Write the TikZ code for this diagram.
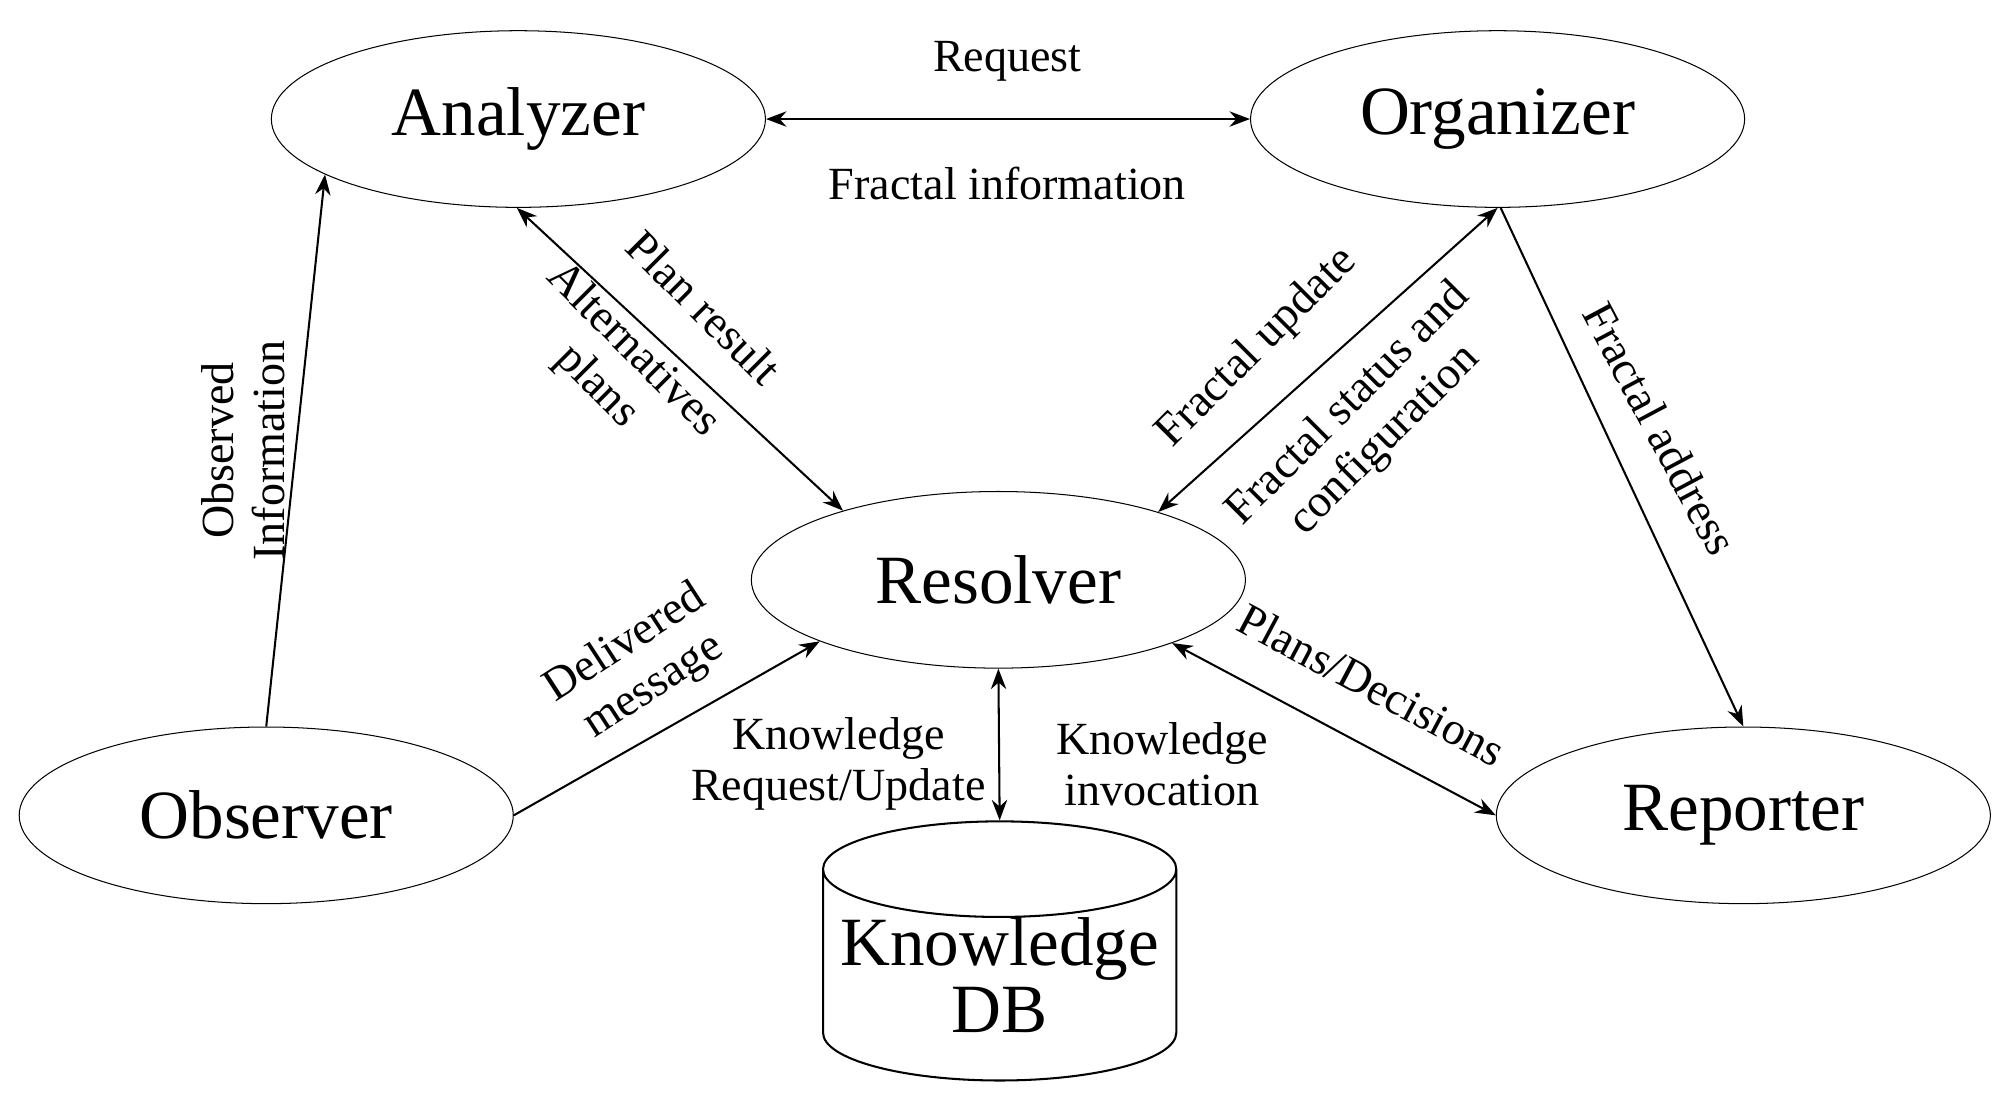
\documentclass[tikz,border=0pt]{standalone}
\usepackage{fontspec}
\setmainfont{Liberation Serif}
\usetikzlibrary{shapes.geometric,arrows.meta}
\tikzset{
  agent/.style={draw,ellipse,inner sep=0pt,minimum width=193pt,minimum height=69pt,font=\fontsize{27}{29}\selectfont},
  lbl/.style={font=\fontsize{18}{20}\selectfont,align=center,inner sep=0pt},
  flow/.style={-{Stealth[length=8pt,width=6pt]},line width=0.8pt},
  both/.style={{Stealth[length=8pt,width=6pt]}-{Stealth[length=8pt,width=6pt]},line width=0.8pt}
}
\begin{document}
\begin{tikzpicture}[x=0.5pt,y=0.5pt,yscale=-1,xscale=1]
\useasboundingbox (0,0) rectangle (1568,865);

% Nodes
\node[agent] (ana) at (405,93) {Analyzer};
\node[agent] (org) at (1170,93) {Organizer};
\node[agent] (res) at (780,453) {Resolver};
\node[agent] (obs) at (208,637) {Observer};
\node[agent] (rep) at (1362,637) {Reporter};
\node[draw,cylinder,shape border rotate=90,aspect=0.3,inner sep=0pt,minimum width=138pt,minimum height=95pt,align=center,font=\fontsize{27}{30}\selectfont,line width=0.8pt] (kdb) at (781,762) {Knowledge\\[-4pt]DB};

% Connectors
\draw[both] (ana.east) -- (org.west);
\draw[flow] (obs.north) -- (ana.-164);
\draw[both] (ana.-91) -- (res.156);
\draw[both] (org.-90) -- (res.23);
\draw[flow] (org.-88) -- (rep.north);
\draw[flow] (obs.east) -- (res.-161);
\draw[both] (res.south) -- (kdb.top);
\draw[both] (res.-20) -- (rep.west);

% Text Node
\node[lbl] (l1) at (787,48) {Request};
\node[lbl] (l2) at (787,143) {Fractal information};
\node[lbl,rotate=90] (l3) at (190,352) {Observed\\Information};
\node[lbl,rotate=-45] (l4) at (550,240) {Plan result};
\node[lbl,rotate=-45] (l5) at (480,288) {Alternatives\\plans};
\node[lbl,rotate=45] (l6) at (982,272) {Fractal update};
\node[lbl,rotate=45] (l7) at (1068,330) {Fractal status and\\configuration};
\node[lbl,rotate=-62] (l8) at (1297,335) {Fractal address};
\node[lbl,rotate=33] (l9) at (500,520) {Delivered\\message};
\node[lbl] (l10) at (655,597) {Knowledge\\Request/Update};
\node[lbl] (l11) at (908,597) {Knowledge\\invocation};
\node[lbl,rotate=-28] (l12) at (1072,535) {Plans/Decisions};
\end{tikzpicture}
\end{document}
